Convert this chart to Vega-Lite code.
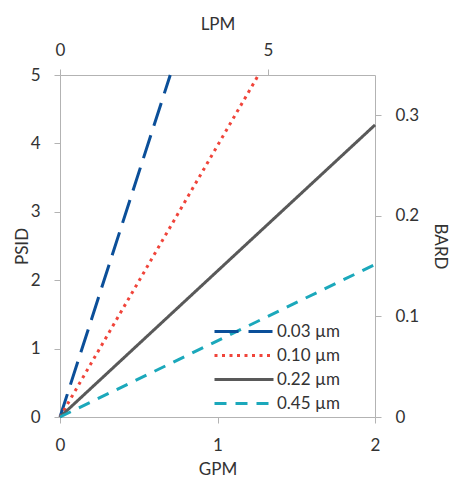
{
  "$schema": "https://vega.github.io/schema/vega-lite/v6.json",
  "width": 315,
  "height": 342,
  "autosize": {"type": "none"},
  "padding": {"left": 60, "top": 75, "right": 87, "bottom": 74},
  "background": "white",
  "config": {
    "font": "Lato",
    "view": {"stroke": null},
    "axis": {
      "grid": false,
      "domainColor": "#b3b3b3",
      "tickColor": "#b3b3b3",
      "tickSize": 6,
      "labelFontSize": 17,
      "titleFontSize": 17,
      "titleFontWeight": "normal",
      "labelColor": "#333333",
      "titleColor": "#333333",
      "labelFont": "Lato",
      "titleFont": "Lato"
    },
    "legend": {
      "labelFont": "Lato",
      "labelFontSize": 17,
      "labelColor": "#333333"
    }
  },
  "layer": [
    {
      "data": {
        "values": [
          {"filter": "0.03 µm", "GPM": 0, "PSID": 0},
          {"filter": "0.03 µm", "GPM": 0.7, "PSID": 5},
          {"filter": "0.10 µm", "GPM": 0, "PSID": 0},
          {"filter": "0.10 µm", "GPM": 1.26, "PSID": 5},
          {"filter": "0.22 µm", "GPM": 0, "PSID": 0},
          {"filter": "0.22 µm", "GPM": 2, "PSID": 4.27},
          {"filter": "0.45 µm", "GPM": 0, "PSID": 0},
          {"filter": "0.45 µm", "GPM": 2, "PSID": 2.23}
        ]
      },
      "mark": {"type": "line", "strokeWidth": 3},
      "encoding": {
        "x": {
          "field": "GPM", "type": "quantitative",
          "scale": {"domain": [0, 2], "nice": false},
          "axis": {"orient": "bottom", "values": [0, 1, 2], "format": "~g", "title": "GPM", "labelFlush": false, "labelPadding": 14, "titlePadding": 8}
        },
        "y": {
          "field": "PSID", "type": "quantitative",
          "scale": {"domain": [0, 5], "nice": false},
          "axis": {"orient": "left", "values": [0, 1, 2, 3, 4, 5], "title": "PSID", "labelPadding": 14, "titlePadding": -1}
        },
        "color": {
          "field": "filter", "type": "nominal",
          "scale": {"domain": ["0.03 µm", "0.10 µm", "0.22 µm", "0.45 µm"], "range": ["#0b4f99", "#f0443a", "#595959", "#1ba8bb"]},
          "legend": {"orient": "none", "legendX": 153, "legendY": 248, "title": null, "symbolType": "stroke", "symbolSize": 3481, "symbolStrokeWidth": 3, "labelOffset": 2, "rowPadding": 6, "clipHeight": 17}
        },
        "strokeDash": {
          "field": "filter", "type": "nominal",
          "scale": {"domain": ["0.03 µm", "0.10 µm", "0.22 µm", "0.45 µm"], "range": [[24, 10], [3, 4.5], [1, 0], [12, 9]]},
          "legend": {"orient": "none", "legendX": 153, "legendY": 248, "title": null, "symbolType": "stroke", "symbolSize": 3481, "symbolStrokeWidth": 3, "labelOffset": 2, "rowPadding": 6, "clipHeight": 17}
        }
      }
    },
    {
      "data": {"values": [{"LPM": 0, "BARD": 0}]},
      "mark": {"type": "point", "opacity": 0},
      "encoding": {
        "x": {
          "field": "LPM", "type": "quantitative",
          "scale": {"domain": [0, 7.57], "nice": false},
          "axis": {"orient": "top", "values": [0, 5], "title": "LPM", "labelFlush": false, "labelPadding": 10, "titlePadding": 8}
        },
        "y": {
          "field": "BARD", "type": "quantitative",
          "scale": {"domain": [0, 0.34], "nice": false},
          "axis": {"orient": "right", "values": [0, 0.1, 0.2, 0.3], "format": "~g", "title": "BARD", "labelPadding": 14, "titlePadding": 12}
        }
      }
    }
  ],
  "resolve": {"scale": {"x": "independent", "y": "independent"}}
}
